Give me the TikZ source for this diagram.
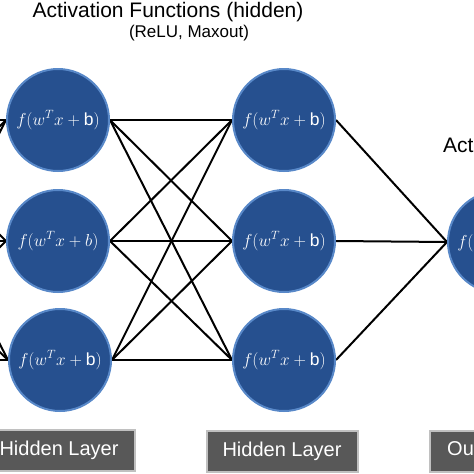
\documentclass[tikz,border=0pt]{standalone}
\usepackage{fontspec}
\setmainfont{Liberation Sans}
\usetikzlibrary{backgrounds,positioning}

\definecolor{neuronblue}{RGB}{38,80,143}
\definecolor{neuronrim}{RGB}{88,136,200}
\definecolor{boxgray}{RGB}{88,88,88}
\definecolor{boxrim}{RGB}{192,192,192}

\tikzset{
  neuron/.style={circle, fill=neuronblue, draw=neuronrim, line width=2pt,
                 minimum size=102pt, inner sep=0pt, text=white,
                 font=\fontsize{17.5}{20}\selectfont},
  layerbox/.style={fill=boxgray, draw=boxrim, line width=2pt,
                 minimum width=151pt, minimum height=41pt, text=white,
                 font=\fontsize{20}{24}\selectfont},
  link/.style={line width=2pt},
  heading/.style={font=\fontsize{21}{25}\selectfont},
}

\begin{document}
\begin{tikzpicture}[x=1pt,y=-1pt]
  \useasboundingbox (0,0) rectangle (474,474);
  \clip (0,0) rectangle (474,474);

  \node[neuron] (in1) at (-167,120) {};                      % input layer (off the page)
  \node[neuron] (in2) at (-167,241) {};
  \node[neuron] (in3) at (-167,360) {};

  \node[neuron] (ha1) at (58,120) {$f(w^Tx+\mathrm{b})$};    % first hidden layer
  \node[neuron] (ha2) at (58,241) {$f(w^Tx+b)$};
  \node[neuron] (ha3) at (60,360) {$f(w^Tx+\mathrm{b})$};

  \node[neuron] (hb1) at (284,120) {$f(w^Tx+\mathrm{b})$};   % second hidden layer
  \node[neuron] (hb2) at (284,241) {$f(w^Tx+\mathrm{b})$};
  \node[neuron] (hb3) at (284,360) {$f(w^Tx+\mathrm{b})$};

  \node[neuron] (out) at (499,242) {$f(w^Tx+\mathrm{b})$};   % output neuron

  \begin{scope}[on background layer]
    \draw[link] (in1.east) -- (ha1.west);   % input to first hidden layer
    \draw[link] (in1.east) -- (ha2.west);
    \draw[link] (in1.east) -- (ha3.west);
    \draw[link] (in2.east) -- (ha1.west);
    \draw[link] (in2.east) -- (ha2.west);
    \draw[link] (in2.east) -- (ha3.west);
    \draw[link] (in3.east) -- (ha1.west);
    \draw[link] (in3.east) -- (ha2.west);
    \draw[link] (in3.east) -- (ha3.west);

    \draw[link] (ha1.east) -- (hb1.west);   % first to second hidden layer
    \draw[link] (ha1.east) -- (hb2.west);
    \draw[link] (ha1.east) -- (hb3.west);
    \draw[link] (ha2.east) -- (hb1.west);
    \draw[link] (ha2.east) -- (hb2.west);
    \draw[link] (ha2.east) -- (hb3.west);
    \draw[link] (ha3.east) -- (hb1.west);
    \draw[link] (ha3.east) -- (hb2.west);
    \draw[link] (ha3.east) -- (hb3.west);

    \draw[link] (hb1.east) -- (out.west);   % second hidden layer to output
    \draw[link] (hb2.east) -- (out.west);
    \draw[link] (hb3.east) -- (out.west);
  \end{scope}

  \node[heading] (hidtitle) at (168,12) {Activation Functions (hidden)};          % title over hidden layers
  \node[font=\fontsize{17}{20}\selectfont] (hidsub) at (189,33) {(ReLU, Maxout)};
  \node[heading, anchor=west, inner sep=0pt] (outtitle) at (443,147) {Activation Functions (output)};

  \node[layerbox] (boxa) at (59,450) {Hidden Layer};   % layer labels
  \node[layerbox] (boxb) at (282,451) {Hidden Layer};
  \node[layerbox] (boxc) at (505,451) {Output Layer};
\end{tikzpicture}
\end{document}
